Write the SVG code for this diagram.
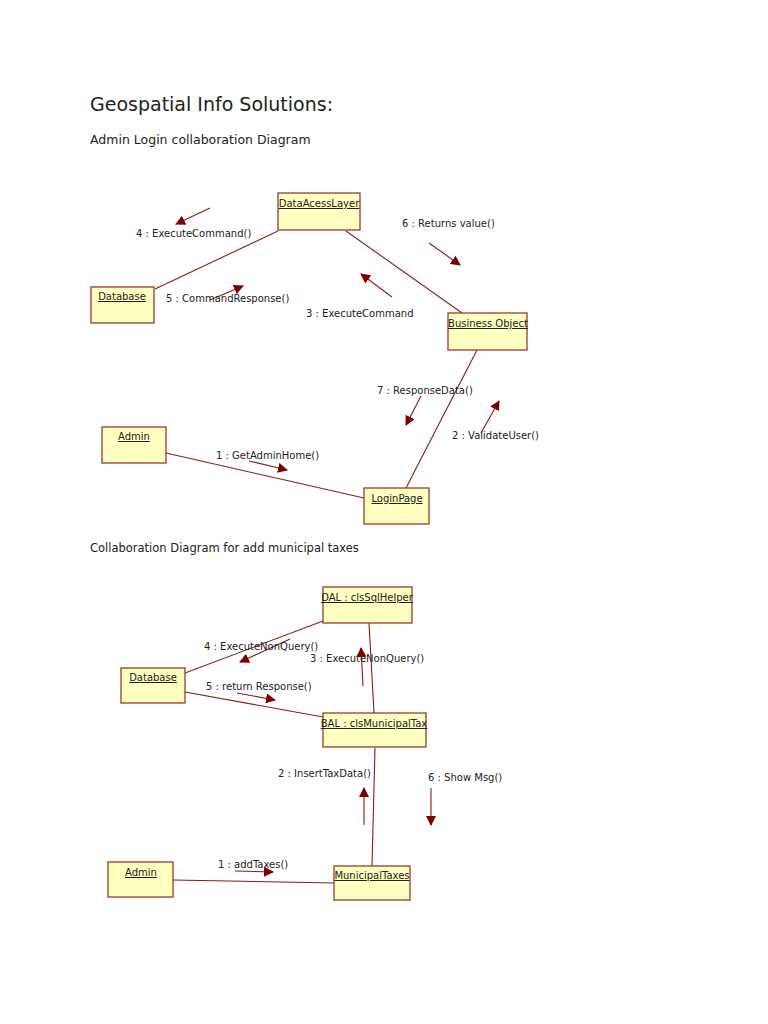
<svg xmlns="http://www.w3.org/2000/svg" width="768" height="1024" viewBox="0 0 768 1024">
<style>
text{font-family:"DejaVu Sans",sans-serif;fill:#222}
.n{fill:#ffffc0;stroke:#9b3a2e;stroke-width:1.3}
.nl{font-size:10px;text-decoration:underline;text-anchor:middle}
.l{font-size:10px}
.c{stroke:#8b1a1a;stroke-width:1.1;fill:none}
.a{stroke:#8b1a1a;stroke-width:1.1;fill:none;marker-end:url(#ah)}
</style>
<defs><marker id="ah" viewBox="0 0 10 10" refX="9" refY="5" markerWidth="10" markerHeight="10" markerUnits="userSpaceOnUse" orient="auto"><path d="M0,0L10,5L0,10z" fill="#7a0000"/></marker></defs>
<rect width="768" height="1024" fill="#fff"/>
<text x="90" y="111" style="font-size:19px">Geospatial Info Solutions:</text>
<text x="90" y="144" style="font-size:12.5px">Admin Login collaboration Diagram</text>
<text x="90" y="552" style="font-size:11.5px">Collaboration Diagram for add municipal taxes</text>
<g id="connectors">
<line class="c" x1="155" y1="289" x2="278" y2="231"/>
<line class="c" x1="346" y1="231" x2="462" y2="313"/>
<line class="c" x1="477" y1="350" x2="406" y2="488"/>
<line class="c" x1="166" y1="453" x2="364" y2="498"/>
<line class="a" x1="210" y1="208" x2="176" y2="224"/>
<line class="a" x1="210" y1="300" x2="243" y2="286"/>
<line class="a" x1="392" y1="297" x2="361" y2="274"/>
<line class="a" x1="429" y1="243" x2="460" y2="265"/>
<line class="a" x1="421" y1="396" x2="406" y2="425"/>
<line class="a" x1="481" y1="433" x2="499" y2="401"/>
<line class="a" x1="249" y1="461" x2="287" y2="470"/>
<line class="c" x1="185" y1="673" x2="323" y2="621"/>
<line class="c" x1="185" y1="692" x2="323" y2="717"/>
<line class="c" x1="369" y1="623" x2="374" y2="713"/>
<line class="c" x1="375" y1="748" x2="372" y2="866"/>
<line class="c" x1="173" y1="880" x2="334" y2="883"/>
<line class="a" x1="290" y1="639" x2="240" y2="662"/>
<line class="a" x1="237" y1="693" x2="275" y2="700"/>
<line class="a" x1="363" y1="686" x2="361" y2="648"/>
<line class="a" x1="364" y1="825" x2="364" y2="788"/>
<line class="a" x1="431" y1="788" x2="431" y2="825"/>
<line class="a" x1="235" y1="871" x2="273" y2="872"/>
<text class="l" x="136" y="237">4 : ExecuteCommand()</text>
<text class="l" x="166" y="302">5 : CommandResponse()</text>
<text class="l" x="306" y="317">3 : ExecuteCommand</text>
<text class="l" x="402" y="227">6 : Returns value()</text>
<text class="l" x="377" y="394">7 : ResponseData()</text>
<text class="l" x="452" y="439">2 : ValidateUser()</text>
<text class="l" x="216" y="459">1 : GetAdminHome()</text>
<text class="l" x="204" y="650">4 : ExecuteNonQuery()</text>
<text class="l" x="310" y="662">3 : ExecuteNonQuery()</text>
<text class="l" x="206" y="690">5 : return Response()</text>
<text class="l" x="278" y="777">2 : InsertTaxData()</text>
<text class="l" x="428" y="781">6 : Show Msg()</text>
<text class="l" x="218" y="868">1 : addTaxes()</text>
</g>
<g id="dal1"><rect class="n" x="278" y="193" width="82" height="37"/><text class="nl" x="319" y="207">DataAcessLayer</text></g>
<g id="db1"><rect class="n" x="91" y="287" width="63" height="36"/><text class="nl" x="122" y="300">Database</text></g>
<g id="bo1"><rect class="n" x="448" y="313" width="79" height="37"/><text class="nl" x="488" y="327">Business Object</text></g>
<g id="admin1"><rect class="n" x="102" y="427" width="64" height="36"/><text class="nl" x="134" y="440">Admin</text></g>
<g id="login1"><rect class="n" x="364" y="488" width="65" height="36"/><text class="nl" x="397" y="502">LoginPage</text></g>
<g id="dal2"><rect class="n" x="323" y="587" width="89" height="36"/><text class="nl" x="367" y="601">DAL : clsSqlHelper</text></g>
<g id="db2"><rect class="n" x="121" y="668" width="64" height="35"/><text class="nl" x="153" y="681">Database</text></g>
<g id="bal2"><rect class="n" x="323" y="713" width="103" height="34"/><text class="nl" x="374" y="727">BAL : clsMunicipalTax</text></g>
<g id="mt2"><rect class="n" x="334" y="866" width="76" height="34"/><text class="nl" x="372" y="879">MunicipalTaxes</text></g>
<g id="admin2"><rect class="n" x="108" y="862" width="65" height="35"/><text class="nl" x="141" y="876">Admin</text></g>
</svg>
